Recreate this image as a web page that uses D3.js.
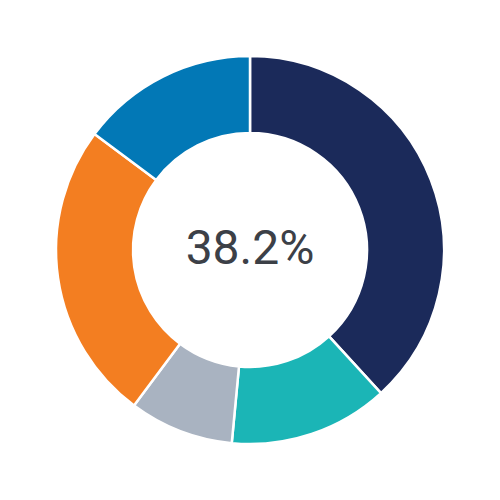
<!DOCTYPE html>
<html>
<head>
<meta charset="utf-8">
<script src="https://cdn.jsdelivr.net/npm/d3@7"></script>
<style>
  html, body { margin: 0; padding: 0; background: #fff; }
</style>
</head>
<body>
<svg id="chart" width="500" height="500"></svg>
<script>
// Data — shares, clockwise from 12 o'clock
const labels = ["A", "B", "C", "D", "E"];
const values = [38.2, 13.3, 8.7, 25.0, 14.8];
const colors = ["#1b2a5a", "#1bb5b6", "#a9b3c1", "#f37e21", "#0278b6"];
const centerLabel = "38.2%";

const svg = d3.select("#chart");
const W = 500, H = 500;
const outerR = 194, innerR = 117;

const g = svg.append("g").attr("transform", `translate(${W / 2},${H / 2})`);

const pie = d3.pie().sort(null).value(d => d.v);
const arc = d3.arc().innerRadius(innerR).outerRadius(outerR);

const rows = labels.map((l, i) => ({ label: l, v: values[i], c: colors[i] }));

g.selectAll("path")
  .data(pie(rows))
  .join("path")
  .attr("d", arc)
  .attr("fill", d => d.data.c)
  .attr("stroke", "#fff")
  .attr("stroke-width", 2.5);

g.append("text")
  .attr("x", 0).attr("y", 14)
  .attr("text-anchor", "middle")
  .attr("fill", "#3c4047")
  .attr("font-family", "Roboto, 'Liberation Sans', Arial, sans-serif")
  .attr("font-size", 48)
  .text(centerLabel);
</script>
</body>
</html>
